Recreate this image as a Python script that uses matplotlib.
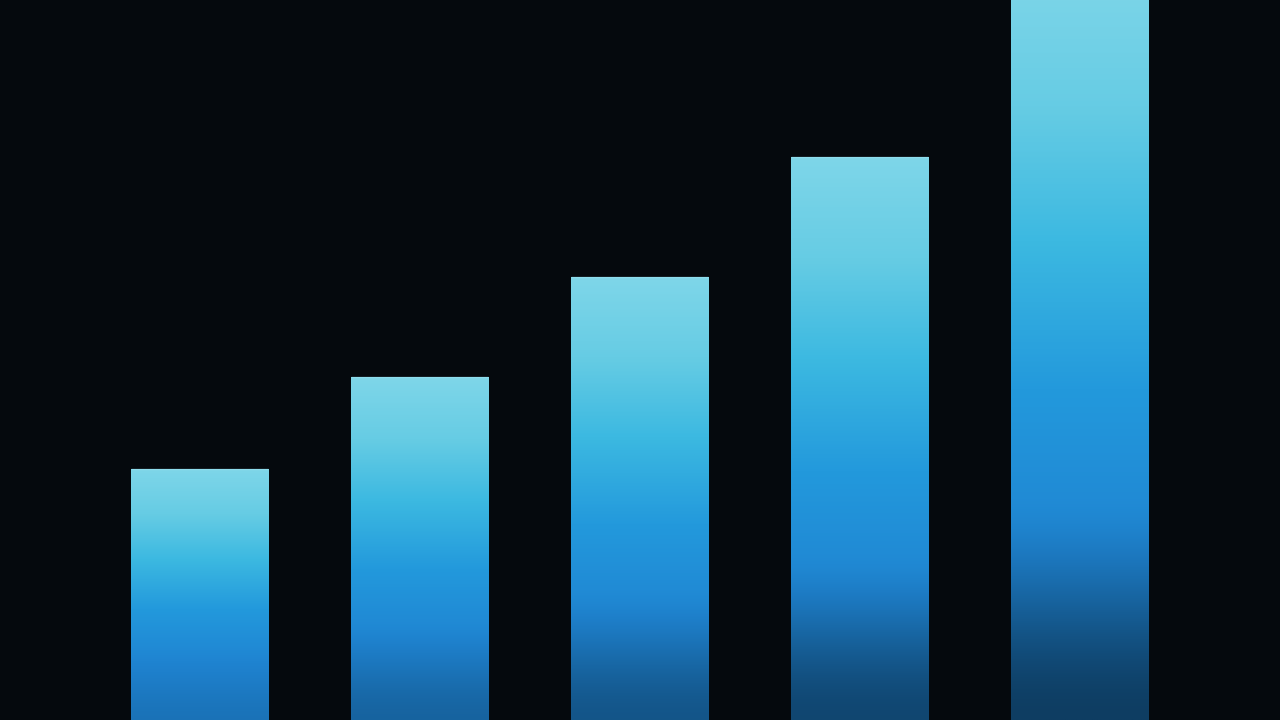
import numpy as np
import matplotlib
matplotlib.use("Agg")
import matplotlib.pyplot as plt
from matplotlib.colors import LinearSegmentedColormap

# Data
categories = ["A", "B", "C", "D", "E"]
values = [34.9, 47.6, 61.5, 78.2, 104.0]

BG = "#05090d"
fig = plt.figure(figsize=(12.8, 7.2), dpi=100, facecolor=BG)
ax = fig.add_axes([0, 0, 1, 1])
ax.set_facecolor(BG)

x = np.arange(len(categories))
bar_w = 0.623
bars = ax.bar(x, values, width=bar_w, color="none", edgecolor="none")

ax.set_xlim(-0.907, 4.911)
ax.set_ylim(0, 100)
ax.axis("off")

base = LinearSegmentedColormap.from_list(
    "barfade",
    [(0.0, "#7ed6e9"), (0.18, "#66cce4"), (0.36, "#3cb9e1"),
     (0.56, "#2399dc"), (0.78, "#1f84d2"), (1.0, "#1c7ac4")])

n = 400
f = np.linspace(0, 1, n)  # 0 = top, 1 = bottom
for rect, v in zip(bars, values):
    cols = base(f)[:, :3]
    hpx = v * 7.2
    amt = 0.5 * np.clip((hpx - 220) / 420, 0, 1) ** 0.8
    t = np.clip((f - 0.7) / 0.3, 0, 1)
    t = t * t * (3 - 2 * t)
    dark = 1 - amt * t
    cols = cols * dark[:, None]
    img = cols[:, None, :]
    x0 = rect.get_x()
    x1 = x0 + rect.get_width()
    im = ax.imshow(img, extent=(x0, x1, 0, v), origin="upper",
                   aspect="auto", interpolation="bilinear", zorder=2)
    im.set_clip_path(rect)
    ax.plot([x0, x1], [v, v], color="#9fe3f0", lw=1.0, alpha=0.5, zorder=3,
            solid_capstyle="butt")

fig.savefig("out.png", dpi=100, facecolor=BG)
